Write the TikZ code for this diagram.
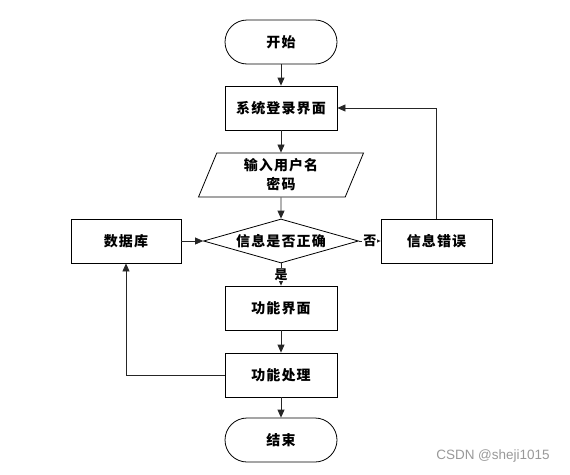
\documentclass[tikz,border=0pt]{standalone}
\usepackage{fontspec}
\newfontfamily\cjk{Noto Sans CJK SC}[LetterSpace=8]
\newfontfamily\wmfont{Liberation Sans}
\usetikzlibrary{shapes.geometric,arrows.meta}
\tikzset{
  terminal/.style={draw, fill=white, rounded corners=22pt, minimum width=112pt, minimum height=44pt, font=\cjk\bfseries\fontsize{14}{16}\selectfont},
  process/.style={draw, fill=white, minimum width=112pt, minimum height=44pt, font=\cjk\bfseries\fontsize{14}{16}\selectfont},
  inout/.style={trapezium, trapezium left angle=62, trapezium right angle=118, trapezium stretches body, draw, fill=white, minimum width=165pt, minimum height=44pt, inner sep=1pt, align=center, font=\cjk\bfseries\fontsize{14}{19}\selectfont},
  decision/.style={diamond, draw, fill=white, aspect=3.5, minimum width=155pt, minimum height=44pt, inner sep=1pt, font=\cjk\bfseries\fontsize{14}{16}\selectfont},
  flow/.style={draw=black!85, line width=0.8pt, -{Triangle[length=8pt,width=7pt]}},
  answer/.style={fill=white, inner sep=1pt, font=\cjk\bfseries\fontsize{13}{15}\selectfont}
}
\begin{document}
\begin{tikzpicture}[x=1pt, y=-1pt, line width=0.8pt]
  \useasboundingbox (0,0) rectangle (570,474);
  \node[terminal] (start) at (281,42) {开始};
  \node[process] (login) at (281,108) {系统登录界面};
  \node[inout] (input) at (281,175) {输入用户名\\密码};
  \node[decision] (check) at (281,241) {信息是否正确};
  \node[process, minimum width=110pt] (db) at (126,241) {数据库};
  \node[process, minimum width=111pt] (error) at (436.5,241) {信息错误};
  \node[process] (funcui) at (281,308) {功能界面};
  \node[process] (handle) at (281,375) {功能处理};
  \node[terminal] (stop) at (281,440) {结束};
  \node[text=black!40, font=\wmfont\fontsize{13.5}{15}\selectfont] (wm) at (493,456) {CSDN @sheji1015};

  \draw[flow] (start) -- (login);
  \draw[flow] (login) -- (input);
  \draw[flow] (input) -- (check);
  \draw[flow] (db) -- (check);
  \draw[flow] (check) -- node[answer] {否} (error);
  \draw[flow] (check) -- node[answer] {是} (funcui);
  \draw[flow] (funcui) -- (handle);
  \draw[flow] (handle) -- (stop);
  \draw[flow] (error.north) |- (login.east);
  \draw[flow] (handle.west) -| (db.south);
\end{tikzpicture}
\end{document}
